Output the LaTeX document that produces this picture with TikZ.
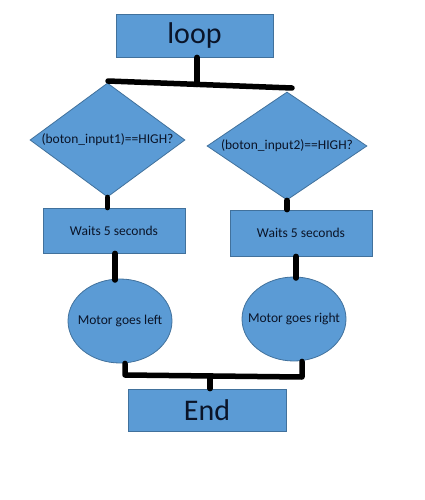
\documentclass[tikz,border=0pt]{standalone}
\usepackage{fontspec}
\setmainfont{Carlito}
\usetikzlibrary{shapes.geometric}
\definecolor{boxfill}{HTML}{5B9BD5}
\definecolor{boxedge}{HTML}{41719C}
\definecolor{txt}{HTML}{0A1428}
\begin{document}
\begin{tikzpicture}[x=1pt,y=-1pt,
  shp/.style={fill=boxfill,draw=boxedge,line width=0.8pt,text=txt,inner sep=0pt},
  rectbox/.style={shp,rectangle},
  dia/.style={shp,diamond,aspect=1.37,inner xsep=-10pt},
  ell/.style={shp,ellipse,inner xsep=-10pt},
  conn/.style={line width=5.5pt,line cap=round,line join=round}]
\useasboundingbox (0,0) rectangle (424,500);
\node[rectbox,minimum width=157pt,minimum height=43pt,font=\fontsize{30}{30}\selectfont] (loop) at (194.5,35.5) {loop};
\node[dia,minimum width=155pt,minimum height=114pt,font=\fontsize{13.5}{14}\selectfont] (d1) at (107.5,140) {(boton\_input1)==HIGH?};
\node[dia,minimum width=160pt,minimum height=108pt,font=\fontsize{13.5}{14}\selectfont] (d2) at (287,146) {(boton\_input2)==HIGH?};
\node[rectbox,minimum width=142pt,minimum height=45pt,font=\fontsize{13.5}{14}\selectfont] (w1) at (114,230.5) {Waits 5 seconds};
\node[rectbox,minimum width=142pt,minimum height=46pt,font=\fontsize{13.5}{14}\selectfont] (w2) at (301,233) {Waits 5 seconds};
\node[ell,minimum width=104pt,minimum height=84pt,font=\fontsize{13.5}{14}\selectfont] (m1) at (120,321) {Motor goes left};
\node[ell,minimum width=104pt,minimum height=84pt,font=\fontsize{13.5}{14}\selectfont] (m2) at (294,319) {Motor goes right};
\node[rectbox,minimum width=158pt,minimum height=42pt,font=\fontsize{30}{30}\selectfont] (end) at (207,410) {End};
\coordinate (jl) at (108,81);
\coordinate (jr) at (292,88);
\coordinate (jm) at (197,84.5);
\coordinate (bl) at (125,375);
\coordinate (br) at (302,377);
\coordinate (bm) at (210,376);
\draw[conn] (loop.south -| jm) -- (jm);
\draw[conn] (jl) -- (jr);
\draw[conn] (d1.south) -- (d1.south |- w1.north);
\draw[conn] (d2.south) -- (d2.south |- w2.north);
\draw[conn] (w1.south -| 115,0) -- (115,280);
\draw[conn] (w2.south -| 296,0) -- (296,278);
\draw[conn] (m1.south -| bl) -- (bl) -- (br) -- (m2.south -| br);
\draw[conn] (bm) -- (bm |- end.north);
\end{tikzpicture}
\end{document}
